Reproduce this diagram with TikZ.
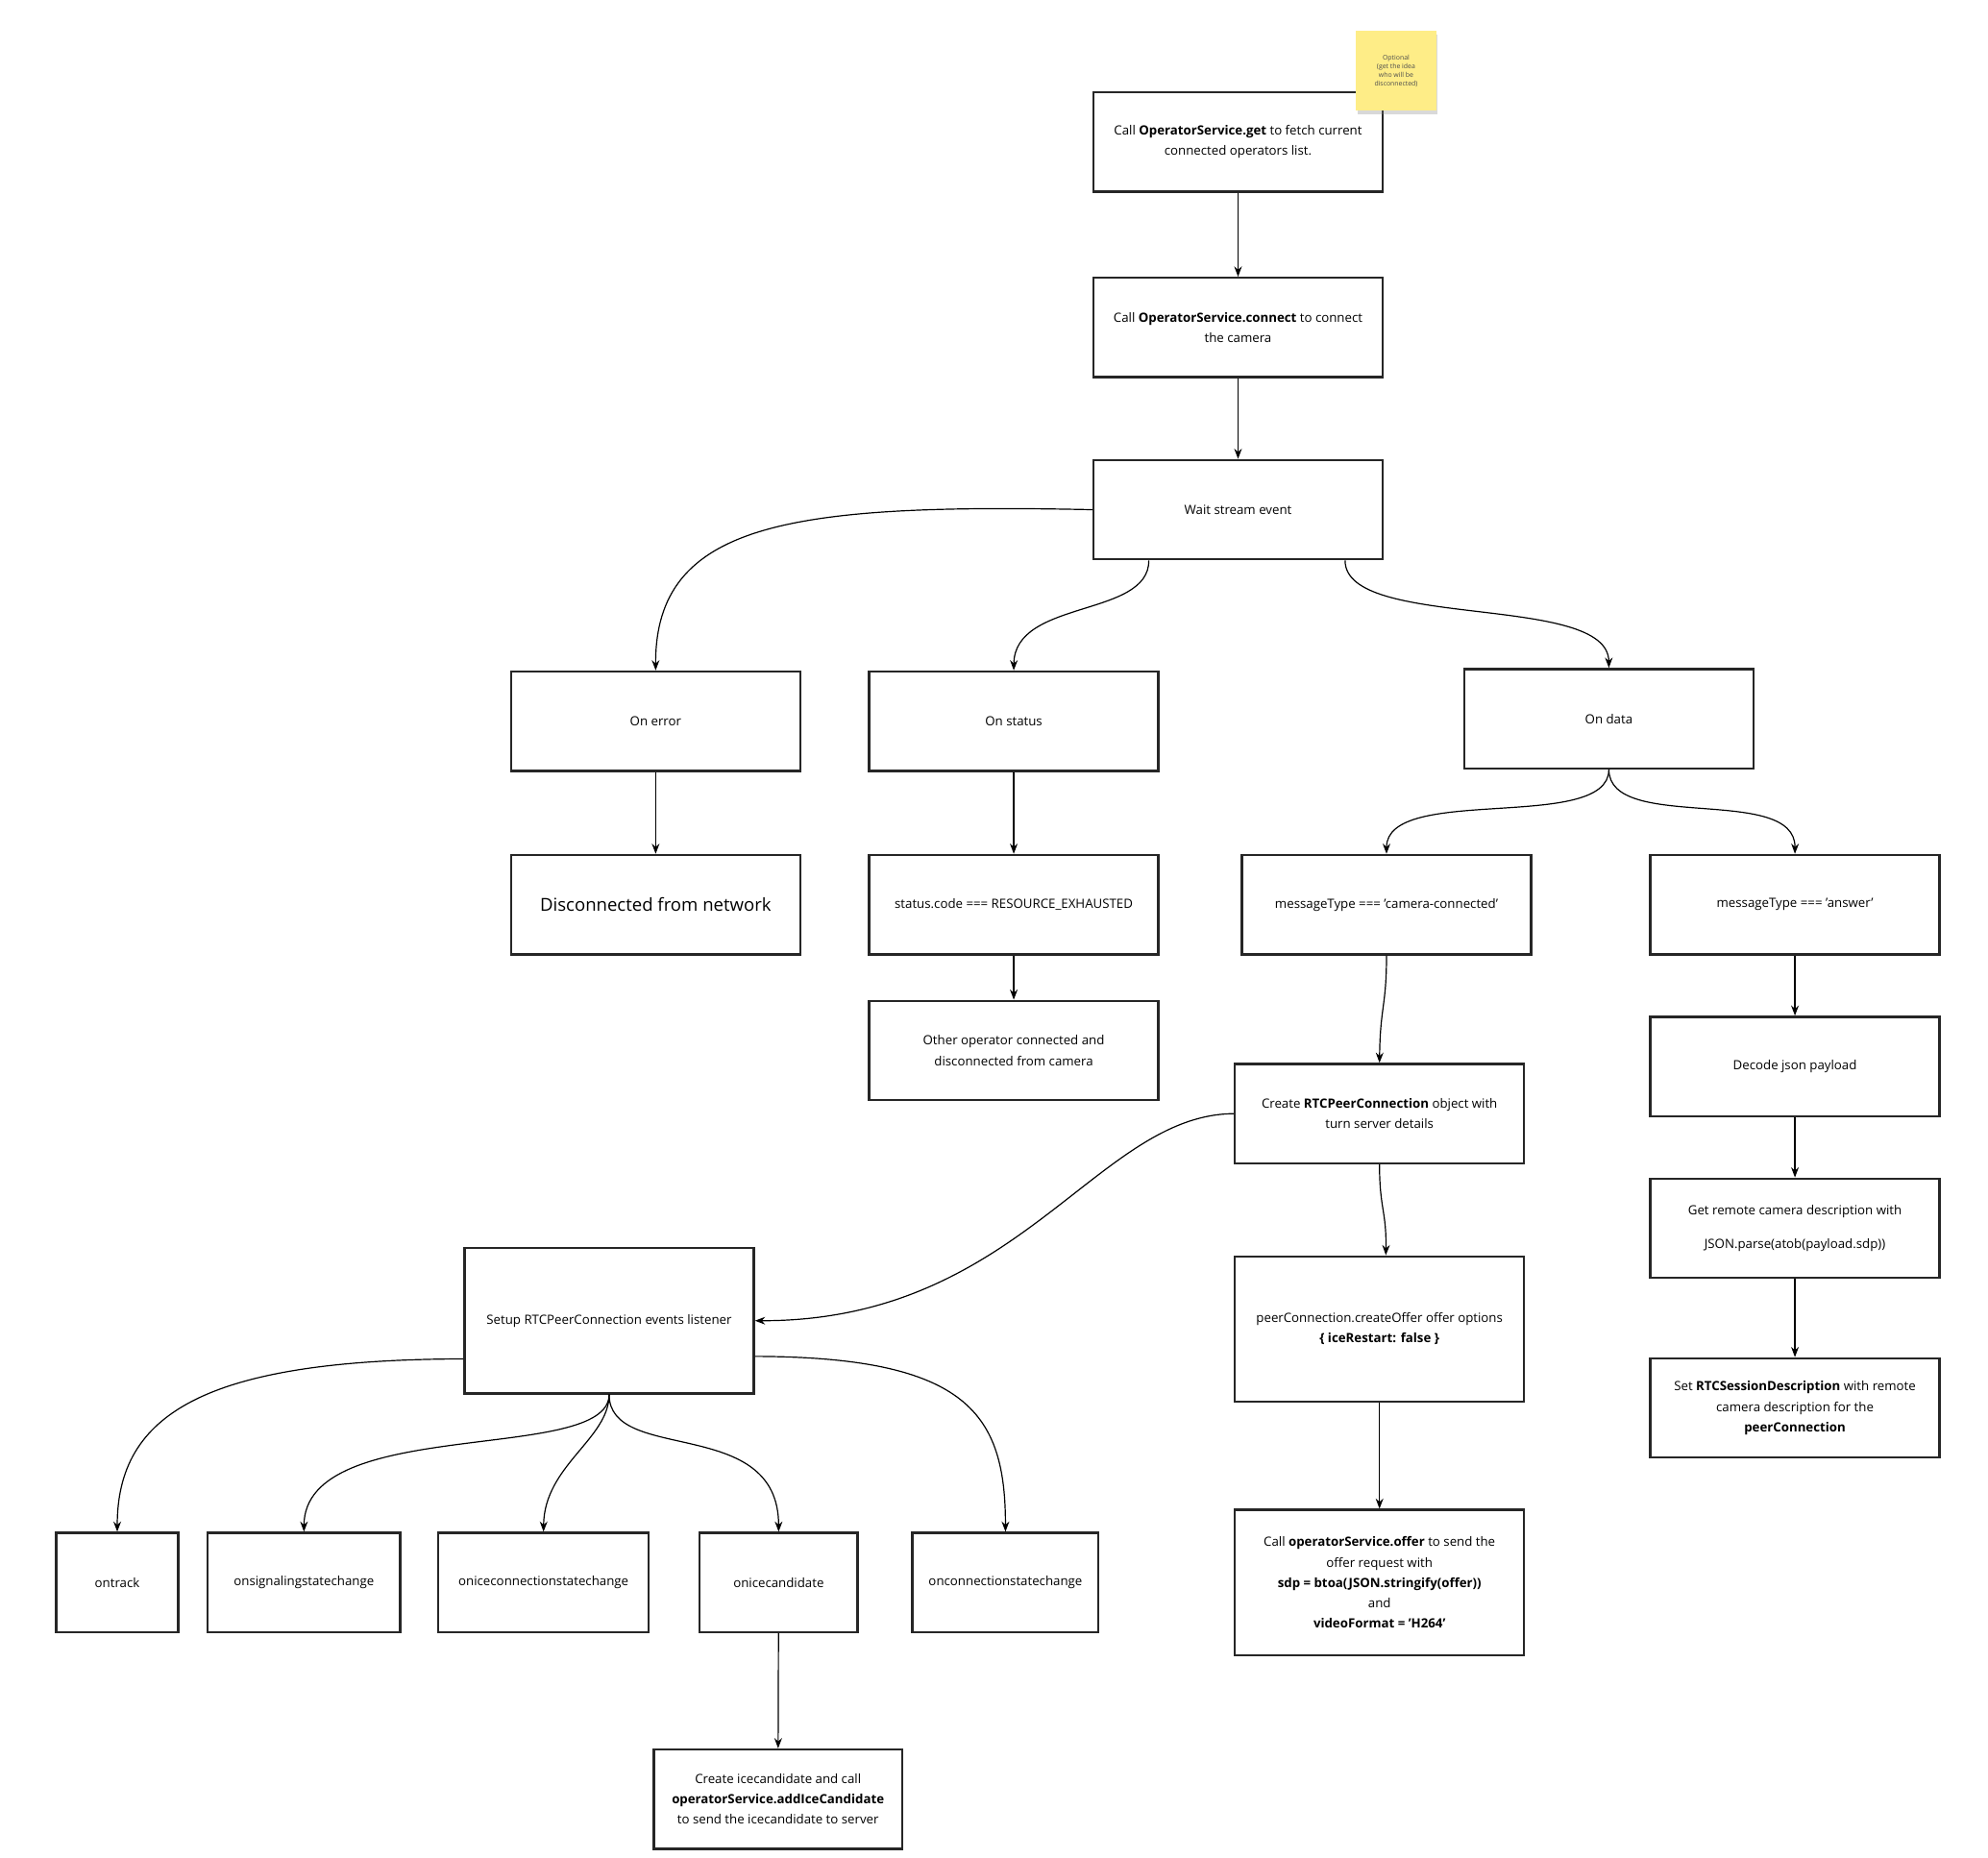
\documentclass[tikz,border=0pt]{standalone}
\usepackage{fontspec}
\setmainfont{Open Sans}
\usetikzlibrary{arrows.meta,shadows}
\begin{document}
\begin{tikzpicture}[x=0.5pt,y=-0.5pt,
  box/.style={draw=black!85,line width=0.9pt,fill=white,minimum width=113.5pt,minimum height=39pt,align=center,inner sep=1pt,font=\fontsize{5}{8}\selectfont},
  tall/.style={box,minimum height=57pt},
  arr/.style={-{Stealth[length=4pt,width=3pt]},line width=0.45pt,black}]
\useasboundingbox (0,0) rectangle (1560,1458);
\node[box] (get) at (971.5,111.5) {Call \textbf{OperatorService.get} to fetch current\\connected operators list.};
\node[fill=yellow!40!white!90!orange, minimum width=31.5pt,minimum height=31.5pt,align=center,inner sep=0pt,font=\fontsize{2.6}{3.4}\selectfont,text=black!70,drop shadow={shadow xshift=0.5pt,shadow yshift=-1.5pt,opacity=0.3}] (note) at (1095.5,55.5) {Optional\\(get the idea\\who will be\\disconnected)};
\node[box] (connect) at (971.5,257) {Call \textbf{OperatorService.connect} to connect\\the camera};
\node[box] (wait) at (971.5,400) {Wait stream event};
\node[box] (err) at (514.5,566) {On error};
\node[box] (status) at (795.5,566) {On status};
\node[box] (data) at (1262.5,564) {On data};
\node[box,font=\fontsize{7}{9}\selectfont] (disc) at (514.5,710) {Disconnected from network};
\node[box] (code) at (795.5,710) {status.code === RESOURCE\_EXHAUSTED};
\node[box] (other) at (795.5,824.5) {Other operator connected and\\disconnected from camera};
\node[box] (camc) at (1088,710) {messageType === 'camera-connected'};
\node[box] (ans) at (1408.5,710) {messageType === 'answer'};
\node[box] (create) at (1082.5,874) {Create \textbf{RTCPeerConnection} object with\\turn server details};
\node[box] (decode) at (1408.5,837) {Decode json payload};
\node[box,font=\fontsize{5}{13}\selectfont] (remote) at (1408.5,964) {Get remote camera description with\\JSON.parse(atob(payload.sdp))};
\node[box] (setrtc) at (1408.5,1105) {Set \textbf{RTCSessionDescription} with remote\\camera description for the\\\textbf{peerConnection}};
\node[tall] (setup) at (478,1036.5) {Setup RTCPeerConnection events listener};
\node[tall] (offer) at (1082.5,1043) {peerConnection.createOffer offer options\\\textbf{\{ iceRestart: false \}}};
\node[tall] (call) at (1082.5,1242) {Call \textbf{operatorService.offer} to send the\\offer request with\\\textbf{sdp = btoa(JSON.stringify(offer))}\\and\\\textbf{videoFormat = 'H264'}};
\node[box,minimum width=48pt] (ontrack) at (92,1242) {ontrack};
\node[box,minimum width=75.5pt] (onsig) at (238.5,1242) {onsignalingstatechange};
\node[box,minimum width=82.5pt] (onice) at (426.5,1242) {oniceconnectionstatechange};
\node[box,minimum width=62pt] (oncand) at (611,1242) {onicecandidate};
\node[box,minimum width=73pt] (onconn) at (789,1242) {onconnectionstatechange};
\node[box,minimum width=97.5pt] (iceadd) at (610.5,1412) {Create icecandidate and call\\\textbf{operatorService.addIceCandidate}\\to send the icecandidate to server};
\draw[arr] (get) -- (connect);
\draw[arr] (connect) -- (wait);
\draw[arr] (wait.west) .. controls (620,395) and (514,410) .. (err.north);
\draw[arr] ([xshift=-35pt]wait.south) .. controls +(0,45) and (796,470) .. (status.north);
\draw[arr] ([xshift=42pt]wait.south) .. controls +(0,55) and (1262,465) .. (data.north);
\draw[arr] (data.south) .. controls +(0,50) and (1088,615) .. (camc.north);
\draw[arr] (data.south) .. controls +(0,50) and (1409,615) .. (ans.north);
\draw[arr] (err) -- (disc);
\draw[arr] (status) -- (code);
\draw[arr] (code) -- (other);
\draw[arr] (camc.south) .. controls +(0,40) and (1083,790) .. (create.north);
\draw[arr] (create.south) .. controls +(0,35) and (1088,950) .. ([xshift=2.5pt]offer.north);
\draw[arr] (offer) -- (call);
\draw[arr] (ans) -- (decode);
\draw[arr] (decode) -- (remote);
\draw[arr] (remote) -- (setrtc);
\draw[arr] (create.west) .. controls (860,875) and (800,1037) .. (setup.east);
\draw[arr] ([yshift=-15pt]setup.west) .. controls (160,1067) and (92,1110) .. (ontrack.north);
\draw[arr] (setup.south) .. controls +(0,55) and (239,1110) .. (onsig.north);
\draw[arr] (setup.south) .. controls +(0,35) and (427,1150) .. (onice.north);
\draw[arr] (setup.south) .. controls +(0,55) and (611,1110) .. (oncand.north);
\draw[arr] ([yshift=-14pt]setup.east) .. controls (760,1065) and (789,1110) .. (onconn.north);
\draw[arr] (oncand) -- (iceadd);
\end{tikzpicture}
\end{document}
